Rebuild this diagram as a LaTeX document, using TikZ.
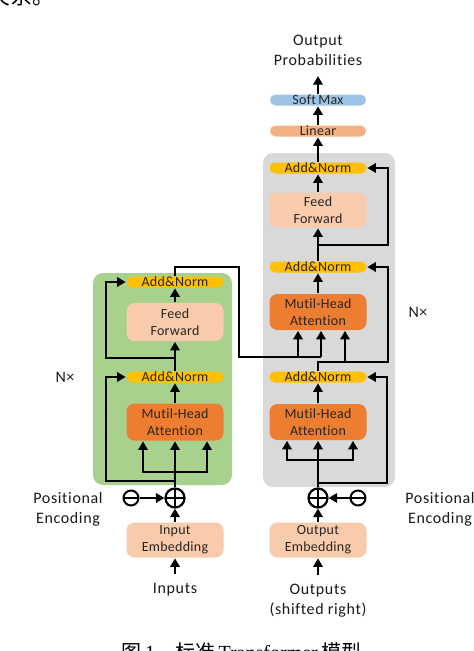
\documentclass[tikz,border=0pt]{standalone}
\usepackage{fontspec}
\setmainfont{Carlito}[Ligatures=NoCommon]
\newfontfamily\boxfont{Carlito}[LetterSpace=2,Ligatures=NoCommon]
\newfontfamily\lblfont{Carlito}[LetterSpace=4,Ligatures=NoCommon]
\newfontfamily\cjk{Noto Sans CJK SC}
\newfontfamily\capserif{Liberation Serif}
\usetikzlibrary{arrows.meta}
\definecolor{egreen}{HTML}{A9D18E}
\definecolor{dgray}{HTML}{D9D9D9}
\definecolor{anyel}{HTML}{FFC000}
\definecolor{ffcol}{HTML}{F8CBAD}
\definecolor{mhacol}{HTML}{ED7D31}
\definecolor{lincol}{HTML}{F4B183}
\definecolor{smcol}{HTML}{9DC3E6}
\definecolor{txt}{HTML}{2A2420}
\definecolor{ltxt}{HTML}{1A1A1A}
\begin{document}
\begin{tikzpicture}[x=1pt,y=-1pt,line width=1.8pt,
  arr/.style={-{Triangle[length=8.5pt,width=9.5pt]}},
  pill/.style={rounded corners=5.5pt,minimum width=97pt,minimum height=11pt,inner sep=0pt,font=\boxfont\fontsize{14}{17}\selectfont,text=txt},
  blk/.style={rounded corners=8pt,minimum width=97pt,inner sep=0pt,align=center,font=\boxfont\fontsize{14}{17}\selectfont,text=txt},
  lbl/.style={inner sep=0pt,align=center,font=\lblfont\fontsize{16}{20}\selectfont,text=ltxt},
  pe/.style={circle,draw,minimum size=15pt,inner sep=0pt,line width=2pt,
    path picture={\draw[line width=2pt] (path picture bounding box.west) -- (path picture bounding box.east);}},
  plus/.style={circle,draw,minimum size=19pt,inner sep=0pt,line width=2.2pt,
    path picture={\draw[line width=2.2pt] (path picture bounding box.west) -- (path picture bounding box.east) (path picture bounding box.north) -- (path picture bounding box.south);}}
]
\useasboundingbox (0,0) rectangle (474,651);
\clip (0,0) rectangle (474,651);
\fill[white] (0,0) rectangle (474,651);

% page text fragments
\node[anchor=base west,inner sep=0pt,font=\cjk\fontsize{22}{22}\selectfont] (toptext) at (-12,4) {关系。};
\node[anchor=base west,inner sep=0pt,font=\fontsize{20}{20}\selectfont] (caption) at (121,659) {\cjk 图\,\capserif 1\quad\cjk 标准\,\capserif Transformer\,\cjk 模型};

% containers
\node[fill=egreen,rounded corners=10pt,minimum width=139pt,minimum height=212pt,inner sep=0pt] (enc) at (162.5,379) {};
\node[fill=dgray,rounded corners=10pt,minimum width=132pt,minimum height=334pt,inner sep=0pt] (dec) at (329,320) {};

% encoder
\node[pill,fill=anyel] (eAN2) at (175,282) {Add\&Norm};
\node[blk,fill=ffcol,minimum height=38pt] (eFF) at (175,322) {Feed\\Forward};
\node[pill,fill=anyel] (eAN1) at (175,377) {Add\&Norm};
\node[blk,fill=mhacol,minimum height=37pt] (eMHA) at (175,422) {Mutil-Head\\Attention};
\node[plus] (ePlus) at (175,498) {};
\node[pe] (ePE) at (131,498) {};
\node[blk,fill=ffcol,minimum height=35pt] (eEmb) at (175,540) {Input\\Embedding};
\node[lbl,anchor=base] (eIn) at (175,593) {Inputs};
\node[lbl] (ePEt) at (68,509) {Positional\\Encoding};
\node[lbl] (eNx) at (65,377) {N×};

% decoder
\node[lbl] (prob) at (318,50) {Output\\Probabilities};
\node[pill,fill=smcol,minimum width=96pt] (soft) at (318,100) {Soft\,Max};
\node[pill,fill=lincol,minimum width=96pt] (lin) at (318,131) {Linear};
\node[pill,fill=anyel] (dAN3) at (318,168) {Add\&Norm};
\node[blk,fill=ffcol,minimum height=35pt] (dFF) at (318,210) {Feed\\Forward};
\node[pill,fill=anyel] (dAN2) at (318,267) {Add\&Norm};
\node[blk,fill=mhacol,minimum height=36pt] (dMHA2) at (318,312) {Mutil-Head\\Attention};
\node[pill,fill=anyel] (dAN1) at (318,377) {Add\&Norm};
\node[blk,fill=mhacol,minimum height=36pt] (dMHA1) at (318,422) {Mutil-Head\\Attention};
\node[plus] (dPlus) at (318,498) {};
\node[pe] (dPE) at (358,498) {};
\node[blk,fill=ffcol,minimum height=35pt] (dEmb) at (318,540) {Output\\Embedding};
\node[lbl,anchor=north] (dOut) at (318,583) {Outputs\\(shifted right)};
\node[lbl] (dPEt) at (440,509) {Positional\\Encoding};
\node[lbl] (dNx) at (418,312) {N×};

% encoder connectors
\draw[arr] (ePE.east) -- (ePlus.west);
\draw[arr] (eEmb.north) -- (ePlus.south);
\draw[arr,shorten <=8pt] (eIn.north) -- (eEmb.south);
\draw[arr] (ePlus.north) -- (eMHA.south);
\coordinate (eb) at (175,472);
\draw[arr] (eb) -| ([xshift=-32pt]eMHA.south);
\draw[arr] (eb) -| ([xshift=32pt]eMHA.south);
\coordinate (er1) at (175,481);
\coordinate (eL1) at (106,481);
\draw[arr] (er1) -- (eL1) |- (eAN1.west);
\draw[arr] (eMHA.north) -- (eAN1.south);
\draw[arr] (eAN1.north) -- (eFF.south);
\coordinate (er2) at (175,358);
\coordinate (eL2) at (106,358);
\draw[arr] (er2) -- (eL2) |- (eAN2.west);
\draw[arr] (eFF.north) -- (eAN2.south);
\coordinate (c1) at (175,267);
\coordinate (c2) at (239,267);
\coordinate (c3) at (239,357);
\coordinate (c4) at (321,357);
\draw (eAN2.north) -- (c1) -- (c2) -- (c3) -- (c4);
\draw[arr] ([xshift=-20pt]dMHA2.south |- c3) -- ([xshift=-20pt]dMHA2.south);
\draw[arr] (c4) -- (c4 |- dMHA2.south);

% decoder connectors
\draw[arr] (dPE.west) -- (dPlus.east);
\draw[arr] (dEmb.north) -- (dPlus.south);
\draw[arr,shorten <=8pt] (dOut.north) -- (dEmb.south);
\draw[arr] (dPlus.north) -- (dMHA1.south);
\coordinate (db) at (318,460);
\draw[arr] (db) -| ([xshift=-31pt]dMHA1.south);
\draw[arr] (db) -| ([xshift=35pt]dMHA1.south);
\coordinate (dr1) at (318,483);
\coordinate (dR1) at (387,483);
\draw[arr] (dr1) -- (dR1) |- (dAN1.east);
\draw[arr] (dMHA1.north) -- (dAN1.south);
\coordinate (dr2) at (318,362);
\coordinate (dR2) at (388,362);
\draw[arr] (dAN1.north) -- (dr2) -- (dR2) |- (dAN2.east);
\draw[arr] ([xshift=27pt]dMHA2.south |- dr2) -- ([xshift=27pt]dMHA2.south);
\draw[arr] (dMHA2.north) -- (dAN2.south);
\draw[arr] (dAN2.north) -- (dFF.south);
\coordinate (dr3) at (318,245);
\coordinate (dR3) at (388,245);
\draw[arr] (dr3) -- (dR3) |- (dAN3.east);
\draw[arr] (dFF.north) -- (dAN3.south);
\draw[arr] (dAN3.north) -- (lin.south);
\draw[arr] (lin.north) -- (soft.south);
\draw[arr,shorten >=10pt] (soft.north) -- (prob.south);
\end{tikzpicture}
\end{document}
